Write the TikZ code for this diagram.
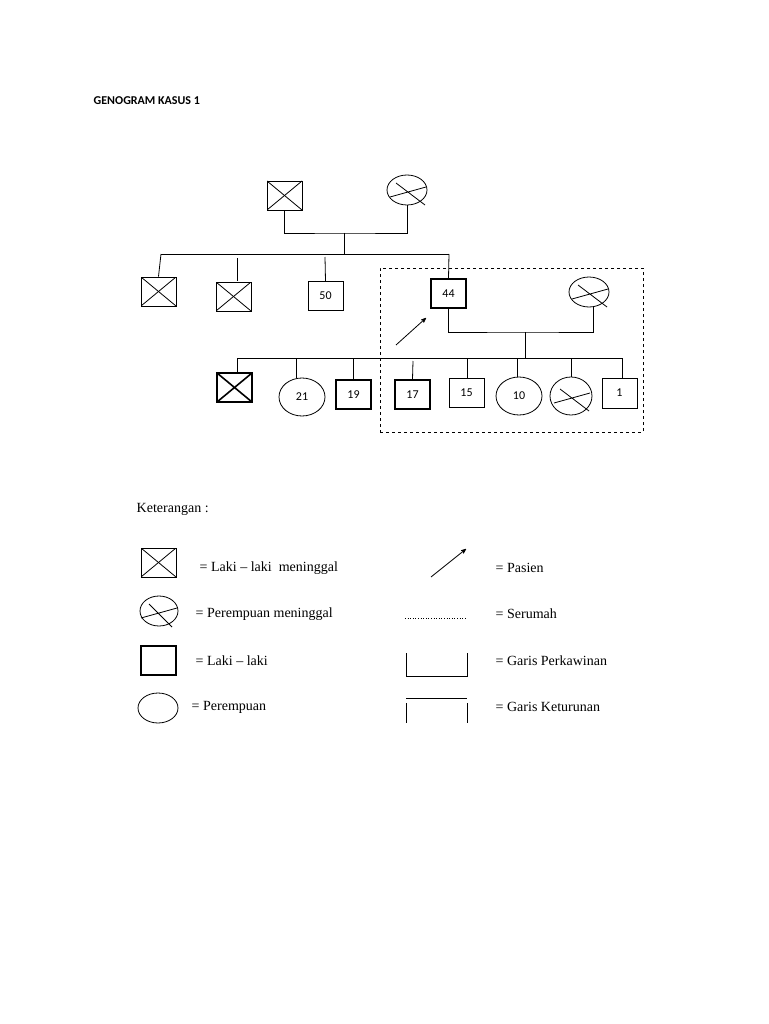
\documentclass[tikz,border=0pt]{standalone}
\usepackage{fontspec}
\setmainfont{Liberation Serif}
\newfontfamily\calib{Carlito}
\usetikzlibrary{shapes.geometric,arrows}

\begin{document}
\begin{tikzpicture}[x=1pt,y=-1pt,line width=0.8pt,>=stealth',
  male/.style={draw,minimum width=35pt,minimum height=29pt,inner sep=0pt,font=\calib\fontsize{12}{12}\selectfont},
  malethick/.style={male,line width=1.6pt},
  female/.style={draw,ellipse,minimum width=46pt,minimum height=38pt,inner sep=0pt,font=\calib\fontsize{12}{12}\selectfont},
  small/.style={minimum width=40pt,minimum height=30pt},
  deadbox/.style={male,path picture={\draw (path picture bounding box.north west) -- (path picture bounding box.south east)
      (path picture bounding box.south west) -- (path picture bounding box.north east);}},
  legend/.style={anchor=west,font=\fontsize{14}{14}\selectfont}]
  \useasboundingbox (0,0) rectangle (768,1024);
  \newcommand{\deadcross}[1]{%
    \draw ([shift={(-11,-7)}]#1.center) -- ([shift={(18,15)}]#1.center)
          ([shift={(-17,7)}]#1.center) -- ([shift={(19,-3)}]#1.center);}

  \node[anchor=west,font=\calib\bfseries\fontsize{12}{12}\selectfont] (title) at (90,101) {GENOGRAM KASUS 1};

  % grandparents
  \node[deadbox] (gf) at (284.5,195.5) {};
  \node[female,small] (gm) at (407,190) {};
  \deadcross{gm}
  \draw (gf.south) |- (344,233) -| (gm.south);
  \draw (344,233) -- (344,254);
  \draw (161,254) -- (449,254);

  % second generation
  \node[deadbox] (s1) at (158.5,291.5) {};
  \node[deadbox] (s2) at (233.5,296.5) {};
  \node[male] (s3) at (325.5,296) {50};
  \node[malethick] (fa) at (448.5,293.5) {44};
  \node[female,small] (mo) at (589,292) {};
  \deadcross{mo}
  \draw (161,254) -- (s1.north);
  \draw (237,258) -- (237,281);
  \draw (325,257) -- (s3.north);
  \draw (449,254) -- (fa.north);
  \draw (fa.south) |- (525,332) -| (593,307);
  \draw (525,332) -- (525,358);
  \draw (237,358) -- (622,358);

  % third generation
  \node[deadbox,line width=1.6pt] (c1) at (234.5,387.5) {};
  \node[female] (c2) at (302,397) {21};
  \node[malethick] (c3) at (353.5,394.5) {19};
  \node[malethick] (c4) at (412.5,394.5) {17};
  \node[male] (c5) at (466.5,392.5) {15};
  \node[female] (c6) at (519,396) {10};
  \node[female,minimum width=42pt] (c7) at (571,396) {};
  \deadcross{c7}
  \node[male,minimum height=30pt] (c8) at (619.5,393) {1};
  \foreach \n/\x in {c1/237,c2/296,c3/353,c5/467,c6/517,c7/571,c8/622}
    \draw (\x,358) -- (\x,0 |- \n.north);
  \draw (413,361) -- (c4.north);

  % household and patient
  \node[draw,dashed,minimum width=263pt,minimum height=164pt] (home) at (511.5,350) {};
  \coordinate (pa) at (396,345);
  \coordinate (pb) at (426,318);
  \draw[->] (pa) -- (pb);

  % legend
  \node[legend] (ket) at (133,509) {Keterangan :};
  \node[deadbox] (l1) at (158.5,562.5) {};
  \node[legend] (t1) at (196,568) {= Laki -- laki\ \ meninggal};
  \node[female,minimum width=38pt,minimum height=30pt] (l2) at (159,611) {};
  \draw ([shift={(-10,-7)}]l2.center) -- ([shift={(13,16)}]l2.center)
        ([shift={(-18,7)}]l2.center) -- ([shift={(18,-3)}]l2.center);
  \node[legend] (t2) at (192,614) {= Perempuan meninggal};
  \node[malethick] (l3) at (158.5,660.5) {};
  \node[legend] (t3) at (192,661) {= Laki -- laki};
  \node[female,small] (l4) at (158,708) {};
  \node[legend] (t4) at (188,707) {= Perempuan};

  \coordinate (la) at (431,577);
  \coordinate (lb) at (466,549);
  \draw[->] (la) -- (lb);
  \node[legend] (t5) at (492,568) {= Pasien};
  \coordinate (da) at (405,618);
  \coordinate (db) at (466,618);
  \draw[dotted,line width=0.6pt] (da) -- (db);
  \node[legend] (t6) at (492,614) {= Serumah};
  \coordinate (ma) at (406,653);
  \coordinate (mb) at (467,653);
  \draw (ma) |- (406,676) -| (mb);
  \node[legend] (t7) at (492,661) {= Garis Perkawinan};
  \coordinate (ka) at (406,698);
  \coordinate (kb) at (467,698);
  \draw (ka) -- (kb);
  \draw (406,703) -- (406,723) (467,703) -- (467,723);
  \node[legend] (t8) at (492,707) {= Garis Keturunan};
\end{tikzpicture}
\end{document}
